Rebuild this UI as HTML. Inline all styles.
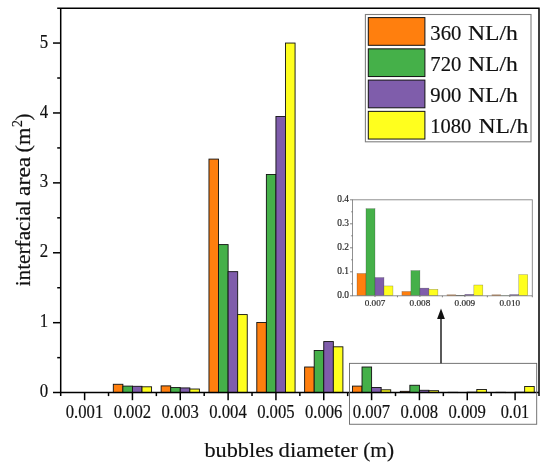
<!DOCTYPE html>
<html><head><meta charset="utf-8"><title>chart</title>
<style>html,body{margin:0;padding:0;background:#fff}svg{display:block}</style></head>
<body>
<svg width="550" height="471" viewBox="0 0 550 471">
<rect width="550" height="471" fill="#fff"/>
<rect x="113.31" y="384.28" width="9.57" height="8.32" fill="#FF7F0E" stroke="#111" stroke-width="0.9"/>
<rect x="122.88" y="386.10" width="9.57" height="6.50" fill="#45B049" stroke="#111" stroke-width="0.9"/>
<rect x="132.44" y="386.31" width="9.57" height="6.29" fill="#7F5DAB" stroke="#111" stroke-width="0.9"/>
<rect x="142.01" y="386.80" width="9.57" height="5.80" fill="#FFFF1E" stroke="#111" stroke-width="0.9"/>
<rect x="161.14" y="385.89" width="9.57" height="6.71" fill="#FF7F0E" stroke="#111" stroke-width="0.9"/>
<rect x="170.71" y="387.57" width="9.57" height="5.03" fill="#45B049" stroke="#111" stroke-width="0.9"/>
<rect x="180.27" y="387.92" width="9.57" height="4.68" fill="#7F5DAB" stroke="#111" stroke-width="0.9"/>
<rect x="189.84" y="389.03" width="9.57" height="3.57" fill="#FFFF1E" stroke="#111" stroke-width="0.9"/>
<rect x="208.97" y="159.10" width="9.57" height="233.50" fill="#FF7F0E" stroke="#111" stroke-width="0.9"/>
<rect x="218.54" y="244.60" width="9.57" height="148.00" fill="#45B049" stroke="#111" stroke-width="0.9"/>
<rect x="228.11" y="271.66" width="9.57" height="120.94" fill="#7F5DAB" stroke="#111" stroke-width="0.9"/>
<rect x="237.67" y="314.58" width="9.57" height="78.02" fill="#FFFF1E" stroke="#111" stroke-width="0.9"/>
<rect x="256.80" y="322.48" width="9.57" height="70.12" fill="#FF7F0E" stroke="#111" stroke-width="0.9"/>
<rect x="266.37" y="174.48" width="9.57" height="218.12" fill="#45B049" stroke="#111" stroke-width="0.9"/>
<rect x="275.94" y="116.46" width="9.57" height="276.14" fill="#7F5DAB" stroke="#111" stroke-width="0.9"/>
<rect x="285.50" y="43.05" width="9.57" height="349.55" fill="#FFFF1E" stroke="#111" stroke-width="0.9"/>
<rect x="304.63" y="367.01" width="9.57" height="25.59" fill="#FF7F0E" stroke="#111" stroke-width="0.9"/>
<rect x="314.20" y="350.51" width="9.57" height="42.09" fill="#45B049" stroke="#111" stroke-width="0.9"/>
<rect x="323.76" y="341.57" width="9.57" height="51.03" fill="#7F5DAB" stroke="#111" stroke-width="0.9"/>
<rect x="333.33" y="346.81" width="9.57" height="45.79" fill="#FFFF1E" stroke="#111" stroke-width="0.9"/>
<rect x="352.46" y="386.10" width="9.57" height="6.50" fill="#FF7F0E" stroke="#111" stroke-width="0.9"/>
<rect x="362.03" y="367.01" width="9.57" height="25.59" fill="#45B049" stroke="#111" stroke-width="0.9"/>
<rect x="371.59" y="387.50" width="9.57" height="5.10" fill="#7F5DAB" stroke="#111" stroke-width="0.9"/>
<rect x="381.16" y="389.80" width="9.57" height="2.80" fill="#FFFF1E" stroke="#111" stroke-width="0.9"/>
<rect x="400.29" y="391.34" width="9.57" height="1.26" fill="#FF7F0E" stroke="#111" stroke-width="0.9"/>
<rect x="409.86" y="385.26" width="9.57" height="7.34" fill="#45B049" stroke="#111" stroke-width="0.9"/>
<rect x="419.42" y="390.29" width="9.57" height="2.31" fill="#7F5DAB" stroke="#111" stroke-width="0.9"/>
<rect x="428.99" y="390.71" width="9.57" height="1.89" fill="#FFFF1E" stroke="#111" stroke-width="0.9"/>
<rect x="448.12" y="392.32" width="9.57" height="0.28" fill="#FF7F0E" stroke="#111" stroke-width="0.9"/>
<rect x="457.69" y="392.46" width="9.57" height="0.14" fill="#45B049" stroke="#111" stroke-width="0.9"/>
<rect x="467.25" y="392.18" width="9.57" height="0.42" fill="#7F5DAB" stroke="#111" stroke-width="0.9"/>
<rect x="476.82" y="389.45" width="9.57" height="3.15" fill="#FFFF1E" stroke="#111" stroke-width="0.9"/>
<rect x="495.95" y="392.32" width="9.57" height="0.28" fill="#FF7F0E" stroke="#111" stroke-width="0.9"/>
<rect x="505.52" y="392.53" width="9.57" height="0.07" fill="#45B049" stroke="#111" stroke-width="0.9"/>
<rect x="515.09" y="392.25" width="9.57" height="0.35" fill="#7F5DAB" stroke="#111" stroke-width="0.9"/>
<rect x="524.65" y="386.45" width="9.57" height="6.15" fill="#FFFF1E" stroke="#111" stroke-width="0.9"/>
<g stroke="#000" stroke-width="1.5" fill="none">
<path d="M57.2 8.2H539.0 V396.1"/>
<path d="M60.7 8.2V396.1"/>
<path d="M53.0 392.6H539.0"/>
<path d="M57.2 357.65H60.7"/>
<path d="M53.0 322.69H60.7"/>
<path d="M57.2 287.74H60.7"/>
<path d="M53.0 252.78H60.7"/>
<path d="M57.2 217.83H60.7"/>
<path d="M53.0 182.87H60.7"/>
<path d="M57.2 147.92H60.7"/>
<path d="M53.0 112.96H60.7"/>
<path d="M57.2 78.01H60.7"/>
<path d="M53.0 43.05H60.7"/>
<path d="M84.62 392.6v7.6"/>
<path d="M132.44 392.6v7.6"/>
<path d="M108.53 392.6v3.5"/>
<path d="M180.27 392.6v7.6"/>
<path d="M156.36 392.6v3.5"/>
<path d="M228.11 392.6v7.6"/>
<path d="M204.19 392.6v3.5"/>
<path d="M275.94 392.6v7.6"/>
<path d="M252.02 392.6v3.5"/>
<path d="M323.76 392.6v7.6"/>
<path d="M299.85 392.6v3.5"/>
<path d="M371.59 392.6v7.6"/>
<path d="M347.68 392.6v3.5"/>
<path d="M419.42 392.6v7.6"/>
<path d="M395.51 392.6v3.5"/>
<path d="M467.25 392.6v7.6"/>
<path d="M443.34 392.6v3.5"/>
<path d="M515.09 392.6v7.6"/>
<path d="M491.17 392.6v3.5"/>
</g>
<text x="84.52" y="417.6" font-size="18" text-anchor="middle" textLength="37.4" lengthAdjust="spacingAndGlyphs" font-family="Liberation Serif, serif" stroke="#111" stroke-width="0.18" fill="#111">0.001</text>
<text x="132.34" y="417.6" font-size="18" text-anchor="middle" textLength="37.4" lengthAdjust="spacingAndGlyphs" font-family="Liberation Serif, serif" stroke="#111" stroke-width="0.18" fill="#111">0.002</text>
<text x="180.17" y="417.6" font-size="18" text-anchor="middle" textLength="37.4" lengthAdjust="spacingAndGlyphs" font-family="Liberation Serif, serif" stroke="#111" stroke-width="0.18" fill="#111">0.003</text>
<text x="228.01" y="417.6" font-size="18" text-anchor="middle" textLength="37.4" lengthAdjust="spacingAndGlyphs" font-family="Liberation Serif, serif" stroke="#111" stroke-width="0.18" fill="#111">0.004</text>
<text x="275.83" y="417.6" font-size="18" text-anchor="middle" textLength="37.4" lengthAdjust="spacingAndGlyphs" font-family="Liberation Serif, serif" stroke="#111" stroke-width="0.18" fill="#111">0.005</text>
<text x="323.66" y="417.6" font-size="18" text-anchor="middle" textLength="37.4" lengthAdjust="spacingAndGlyphs" font-family="Liberation Serif, serif" stroke="#111" stroke-width="0.18" fill="#111">0.006</text>
<text x="371.49" y="417.6" font-size="18" text-anchor="middle" textLength="37.4" lengthAdjust="spacingAndGlyphs" font-family="Liberation Serif, serif" stroke="#111" stroke-width="0.18" fill="#111">0.007</text>
<text x="419.32" y="417.6" font-size="18" text-anchor="middle" textLength="37.4" lengthAdjust="spacingAndGlyphs" font-family="Liberation Serif, serif" stroke="#111" stroke-width="0.18" fill="#111">0.008</text>
<text x="467.15" y="417.6" font-size="18" text-anchor="middle" textLength="37.4" lengthAdjust="spacingAndGlyphs" font-family="Liberation Serif, serif" stroke="#111" stroke-width="0.18" fill="#111">0.009</text>
<text x="514.99" y="417.6" font-size="18" text-anchor="middle" textLength="28.6" lengthAdjust="spacingAndGlyphs" font-family="Liberation Serif, serif" stroke="#111" stroke-width="0.18" fill="#111">0.01</text>
<text x="48.2" y="397.20" font-size="18" text-anchor="end" textLength="8.4" lengthAdjust="spacingAndGlyphs" font-family="Liberation Serif, serif" stroke="#111" stroke-width="0.18" fill="#111">0</text>
<text x="48.2" y="327.29" font-size="18" text-anchor="end" textLength="8.4" lengthAdjust="spacingAndGlyphs" font-family="Liberation Serif, serif" stroke="#111" stroke-width="0.18" fill="#111">1</text>
<text x="48.2" y="257.38" font-size="18" text-anchor="end" textLength="8.4" lengthAdjust="spacingAndGlyphs" font-family="Liberation Serif, serif" stroke="#111" stroke-width="0.18" fill="#111">2</text>
<text x="48.2" y="187.47" font-size="18" text-anchor="end" textLength="8.4" lengthAdjust="spacingAndGlyphs" font-family="Liberation Serif, serif" stroke="#111" stroke-width="0.18" fill="#111">3</text>
<text x="48.2" y="117.56" font-size="18" text-anchor="end" textLength="8.4" lengthAdjust="spacingAndGlyphs" font-family="Liberation Serif, serif" stroke="#111" stroke-width="0.18" fill="#111">4</text>
<text x="48.2" y="47.65" font-size="18" text-anchor="end" textLength="8.4" lengthAdjust="spacingAndGlyphs" font-family="Liberation Serif, serif" stroke="#111" stroke-width="0.18" fill="#111">5</text>
<text y="456.6" font-size="21" font-family="Liberation Serif, serif" stroke="#111" stroke-width="0.18" fill="#111"><tspan x="204.5" textLength="69.2" lengthAdjust="spacingAndGlyphs">bubbles</tspan> <tspan x="278.6" textLength="79.2" lengthAdjust="spacingAndGlyphs">diameter</tspan> <tspan x="363.2" textLength="30.8" lengthAdjust="spacingAndGlyphs">(m)</tspan></text>
<text transform="translate(30.0 286.3) rotate(-90)" font-size="21" font-family="Liberation Serif, serif" stroke="#111" stroke-width="0.18" fill="#111"><tspan x="0" textLength="86" lengthAdjust="spacingAndGlyphs">interfacial</tspan> <tspan x="90.4" textLength="39.2" lengthAdjust="spacingAndGlyphs">area</tspan> <tspan x="133.8" textLength="24.8" lengthAdjust="spacingAndGlyphs">(m</tspan><tspan x="159.4" dy="-8" font-size="14">2</tspan><tspan x="165.8" dy="8">)</tspan></text>
<rect x="349.5" y="363.35" width="187.2" height="60.9" fill="none" stroke="#666" stroke-width="0.9"/>
<path d="M441 363.2V318" stroke="#000" stroke-width="1.3"/><path d="M441 308.4l3.9 10.7h-7.8z" fill="#111"/>
<rect x="365.4" y="14.5" width="165.6" height="127.3" fill="#fff" stroke="#808080" stroke-width="1.1"/>
<rect x="368.3" y="17.60" width="56.6" height="27.7" fill="#FF7F0E" stroke="#111" stroke-width="1"/>
<text y="39.60" font-size="21" font-family="Liberation Serif, serif" stroke="#111" stroke-width="0.18" fill="#111"><tspan x="430.3" textLength="31.0" lengthAdjust="spacingAndGlyphs">360</tspan> <tspan x="468.0" textLength="49.8" lengthAdjust="spacingAndGlyphs">NL/h</tspan></text>
<rect x="368.3" y="48.85" width="56.6" height="27.7" fill="#45B049" stroke="#111" stroke-width="1"/>
<text y="70.85" font-size="21" font-family="Liberation Serif, serif" stroke="#111" stroke-width="0.18" fill="#111"><tspan x="430.3" textLength="31.0" lengthAdjust="spacingAndGlyphs">720</tspan> <tspan x="468.0" textLength="49.8" lengthAdjust="spacingAndGlyphs">NL/h</tspan></text>
<rect x="368.3" y="80.10" width="56.6" height="27.7" fill="#7F5DAB" stroke="#111" stroke-width="1"/>
<text y="102.10" font-size="21" font-family="Liberation Serif, serif" stroke="#111" stroke-width="0.18" fill="#111"><tspan x="430.3" textLength="31.0" lengthAdjust="spacingAndGlyphs">900</tspan> <tspan x="468.0" textLength="49.8" lengthAdjust="spacingAndGlyphs">NL/h</tspan></text>
<rect x="368.3" y="111.35" width="56.6" height="27.7" fill="#FFFF1E" stroke="#111" stroke-width="1"/>
<text y="133.35" font-size="21" font-family="Liberation Serif, serif" stroke="#111" stroke-width="0.18" fill="#111"><tspan x="430.3" textLength="41.0" lengthAdjust="spacingAndGlyphs">1080</tspan> <tspan x="478.5" textLength="49.8" lengthAdjust="spacingAndGlyphs">NL/h</tspan></text>
<rect x="357.00" y="273.48" width="8.99" height="22.32" fill="#FF7F0E" stroke="#333" stroke-opacity="0.6" stroke-width="0.4"/>
<rect x="365.99" y="208.68" width="8.99" height="87.12" fill="#45B049" stroke="#333" stroke-opacity="0.6" stroke-width="0.4"/>
<rect x="374.98" y="277.56" width="8.99" height="18.24" fill="#7F5DAB" stroke="#333" stroke-opacity="0.6" stroke-width="0.4"/>
<rect x="383.96" y="285.96" width="8.99" height="9.84" fill="#FFFF1E" stroke="#333" stroke-opacity="0.6" stroke-width="0.4"/>
<rect x="401.94" y="291.48" width="8.99" height="4.32" fill="#FF7F0E" stroke="#333" stroke-opacity="0.6" stroke-width="0.4"/>
<rect x="410.93" y="270.60" width="8.99" height="25.20" fill="#45B049" stroke="#333" stroke-opacity="0.6" stroke-width="0.4"/>
<rect x="419.92" y="288.12" width="8.99" height="7.68" fill="#7F5DAB" stroke="#333" stroke-opacity="0.6" stroke-width="0.4"/>
<rect x="428.91" y="289.32" width="8.99" height="6.48" fill="#FFFF1E" stroke="#333" stroke-opacity="0.6" stroke-width="0.4"/>
<rect x="446.89" y="294.84" width="8.99" height="0.96" fill="#FF7F0E" stroke="#333" stroke-opacity="0.6" stroke-width="0.4"/>
<rect x="455.88" y="295.32" width="8.99" height="0.48" fill="#45B049" stroke="#333" stroke-opacity="0.6" stroke-width="0.4"/>
<rect x="464.88" y="294.36" width="8.99" height="1.44" fill="#7F5DAB" stroke="#333" stroke-opacity="0.6" stroke-width="0.4"/>
<rect x="473.86" y="285.00" width="8.99" height="10.80" fill="#FFFF1E" stroke="#333" stroke-opacity="0.6" stroke-width="0.4"/>
<rect x="491.84" y="294.84" width="8.99" height="0.96" fill="#FF7F0E" stroke="#333" stroke-opacity="0.6" stroke-width="0.4"/>
<rect x="500.83" y="295.56" width="8.99" height="0.24" fill="#45B049" stroke="#333" stroke-opacity="0.6" stroke-width="0.4"/>
<rect x="509.82" y="294.60" width="8.99" height="1.20" fill="#7F5DAB" stroke="#333" stroke-opacity="0.6" stroke-width="0.4"/>
<rect x="518.81" y="274.68" width="8.99" height="21.12" fill="#FFFF1E" stroke="#333" stroke-opacity="0.6" stroke-width="0.4"/>
<rect x="352.5" y="199.8" width="179.80" height="96.00" fill="none" stroke="#858585" stroke-width="0.9"/>
<g stroke="#666" stroke-width="0.8">
<path d="M350.0 295.80H352.5"/>
<path d="M350.0 271.80H352.5"/>
<path d="M350.0 247.80H352.5"/>
<path d="M350.0 223.80H352.5"/>
<path d="M350.0 199.80H352.5"/>
<path d="M351.2 283.80H352.5"/>
<path d="M351.2 259.80H352.5"/>
<path d="M351.2 235.80H352.5"/>
<path d="M351.2 211.80H352.5"/>
<path d="M374.98 295.8v1.2"/>
<path d="M397.45 295.8v1.5"/>
<path d="M419.92 295.8v1.2"/>
<path d="M442.40 295.8v1.5"/>
<path d="M464.88 295.8v1.2"/>
<path d="M487.35 295.8v1.5"/>
<path d="M509.82 295.8v1.2"/>
<path d="M532.30 295.8v1.5"/>
</g>
<text x="374.98" y="305.6" font-size="9.2" text-anchor="middle" font-family="Liberation Serif, serif" stroke="#111" stroke-width="0.18" fill="#333">0.007</text>
<text x="419.92" y="305.6" font-size="9.2" text-anchor="middle" font-family="Liberation Serif, serif" stroke="#111" stroke-width="0.18" fill="#333">0.008</text>
<text x="464.88" y="305.6" font-size="9.2" text-anchor="middle" font-family="Liberation Serif, serif" stroke="#111" stroke-width="0.18" fill="#333">0.009</text>
<text x="509.82" y="305.6" font-size="9.2" text-anchor="middle" font-family="Liberation Serif, serif" stroke="#111" stroke-width="0.18" fill="#333">0.010</text>
<text x="349" y="298.30" font-size="9.4" text-anchor="end" font-family="Liberation Serif, serif" stroke="#111" stroke-width="0.18" fill="#333">0.0</text>
<text x="349" y="274.30" font-size="9.4" text-anchor="end" font-family="Liberation Serif, serif" stroke="#111" stroke-width="0.18" fill="#333">0.1</text>
<text x="349" y="250.30" font-size="9.4" text-anchor="end" font-family="Liberation Serif, serif" stroke="#111" stroke-width="0.18" fill="#333">0.2</text>
<text x="349" y="226.30" font-size="9.4" text-anchor="end" font-family="Liberation Serif, serif" stroke="#111" stroke-width="0.18" fill="#333">0.3</text>
<text x="349" y="202.30" font-size="9.4" text-anchor="end" font-family="Liberation Serif, serif" stroke="#111" stroke-width="0.18" fill="#333">0.4</text>
</svg>
</body></html>
